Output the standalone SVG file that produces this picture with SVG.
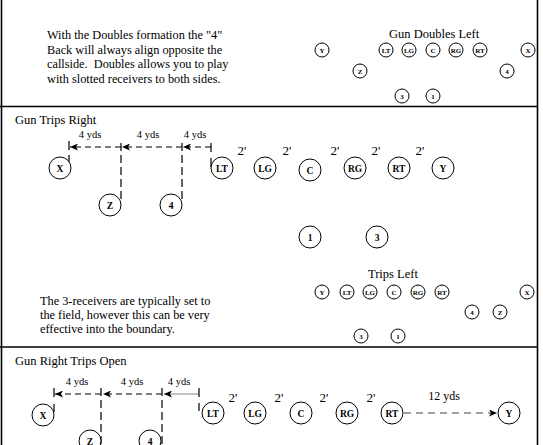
<svg xmlns="http://www.w3.org/2000/svg" width="543" height="445" viewBox="0 0 543 445">
<style>
.t{font-family:"Liberation Serif","Times New Roman",serif;fill:#000}
.body{font-size:12.3px;white-space:pre}
.title{font-size:12.5px}
.yd{font-size:10.5px;text-anchor:middle}
.ft{font-size:13px;text-anchor:middle}
.c{fill:#fff;stroke:#000;stroke-width:1}
.sl{font-size:7px;font-weight:bold;text-anchor:middle}
.ll{font-size:9.5px;font-weight:bold;text-anchor:middle}
.dash{stroke:#000;stroke-width:1.2;stroke-dasharray:6 4;fill:none}
.solid{stroke:#888;stroke-width:1.2;fill:none}
.frame{stroke:#000;stroke-width:1.6;fill:none}
</style>
<defs>
<marker id="ah" markerWidth="9" markerHeight="7" refX="8" refY="3.5" orient="auto" markerUnits="userSpaceOnUse">
<path d="M0,0 L8,3.5 L0,7 L2,3.5 z" fill="#000"/>
</marker>
</defs>
<rect width="543" height="445" fill="#fff"/>
<g id="frame">
<line class="frame" x1="1.5" y1="0" x2="1.5" y2="445"/>
<line class="frame" x1="537.5" y1="0" x2="537.5" y2="445"/>
<line class="frame" x1="0" y1="106.5" x2="538" y2="106.5"/>
<line class="frame" x1="0" y1="347" x2="538" y2="347"/>
</g>
<g id="texts" font-family="'Liberation Serif', 'Times New Roman', serif">
<text class="t body" x="47" y="39">With the Doubles formation the "4"</text>
<text class="t body" x="47" y="53.5">Back will always align opposite the</text>
<text class="t body" x="47" y="68">callside.  Doubles allows you to play</text>
<text class="t body" x="47" y="82.5">with slotted receivers to both sides.</text>
<text class="t title" x="389" y="37.5">Gun Doubles Left</text>
<text class="t title" x="15" y="123.5">Gun Trips Right</text>
<text class="t body" x="40" y="305">The 3-receivers are typically set to</text>
<text class="t body" x="40" y="319">the field, however this can be very</text>
<text class="t body" x="40" y="333">effective into the boundary.</text>
<text class="t title" x="368" y="278">Trips Left</text>
<text class="t title" x="15" y="365">Gun Right Trips Open</text>
</g>
<g id="labels">
<text class="t yd" x="90" y="138">4 yds</text>
<text class="t yd" x="148" y="138">4 yds</text>
<text class="t yd" x="195" y="138">4 yds</text>
<text class="t ft" x="242" y="155">2'</text>
<text class="t ft" x="287" y="155">2'</text>
<text class="t ft" x="335" y="155">2'</text>
<text class="t ft" x="376" y="155">2'</text>
<text class="t ft" x="420" y="155">2'</text>
<text class="t yd" x="77" y="385">4 yds</text>
<text class="t yd" x="132" y="385">4 yds</text>
<text class="t yd" x="179" y="385">4 yds</text>
<text class="t ft" x="233" y="402">2'</text>
<text class="t ft" x="279" y="402">2'</text>
<text class="t ft" x="324" y="402">2'</text>
<text class="t ft" x="371" y="402">2'</text>
<text class="t ft" x="444" y="400" style="font-size:12px">12 yds</text>
</g>
<g id="connectors">
<line class="dash" x1="211" y1="147" x2="183" y2="147" marker-end="url(#ah)"/>
<line class="dash" x1="182" y1="147" x2="122" y2="147" marker-end="url(#ah)"/>
<line class="dash" x1="121" y1="147" x2="70" y2="147" marker-end="url(#ah)"/>
<line class="dash" x1="69" y1="141" x2="69" y2="162" style="stroke-dasharray:9 5"/>
<line class="dash" x1="121" y1="143" x2="121" y2="202" style="stroke-dasharray:8 4"/>
<line class="dash" x1="182" y1="143" x2="182" y2="202" style="stroke-dasharray:8 4"/>
<line class="dash" x1="211" y1="143" x2="211" y2="167" style="stroke-dasharray:9 6"/>
<line class="solid" x1="199" y1="394" x2="164" y2="394" marker-end="url(#ah)"/>
<line class="dash" x1="162" y1="394" x2="103" y2="394" marker-end="url(#ah)"/>
<line class="dash" x1="101" y1="394" x2="55" y2="394" marker-end="url(#ah)"/>
<line class="dash" x1="54" y1="388" x2="54" y2="412" style="stroke-dasharray:9 7"/>
<line class="dash" x1="101" y1="388" x2="101" y2="445" style="stroke-dasharray:8 4"/>
<line class="dash" x1="162" y1="388" x2="162" y2="445" style="stroke-dasharray:8 4"/>
<line class="dash" x1="199" y1="388" x2="199" y2="411" style="stroke-dasharray:9 6"/>
<line class="dash" x1="404" y1="413" x2="497" y2="413" style="stroke:#444;stroke-dasharray:7 5" marker-end="url(#ah)"/>
</g>
<g id="s1-Y"><circle class="c" cx="322" cy="50" r="7"/><text class="t sl" x="322" y="52.5">Y</text></g>
<g id="s1-LT"><circle class="c" cx="386" cy="50" r="7"/><text class="t sl" x="386" y="52.5">LT</text></g>
<g id="s1-LG"><circle class="c" cx="409" cy="50" r="7"/><text class="t sl" x="409" y="52.5">LG</text></g>
<g id="s1-C"><circle class="c" cx="433" cy="50" r="7"/><text class="t sl" x="433" y="52.5">C</text></g>
<g id="s1-RG"><circle class="c" cx="456" cy="50" r="7"/><text class="t sl" x="456" y="52.5">RG</text></g>
<g id="s1-RT"><circle class="c" cx="480" cy="50" r="7"/><text class="t sl" x="480" y="52.5">RT</text></g>
<g id="s1-X"><circle class="c" cx="528" cy="50" r="7"/><text class="t sl" x="528" y="52.5">X</text></g>
<g id="s1-Z"><circle class="c" cx="360" cy="71" r="7"/><text class="t sl" x="360" y="73.5">Z</text></g>
<g id="s1-4"><circle class="c" cx="507" cy="71" r="7"/><text class="t sl" x="507" y="73.5">4</text></g>
<g id="s1-3"><circle class="c" cx="402" cy="96" r="7"/><text class="t sl" x="402" y="98.5">3</text></g>
<g id="s1-1"><circle class="c" cx="433" cy="96" r="7"/><text class="t sl" x="433" y="98.5">1</text></g>
<g id="s2-X"><circle class="c" cx="60" cy="168" r="11"/><text class="t ll" x="60" y="171.5">X</text></g>
<g id="s2-Z"><circle class="c" cx="110" cy="205" r="11"/><text class="t ll" x="110" y="208.5">Z</text></g>
<g id="s2-4"><circle class="c" cx="171" cy="205" r="11"/><text class="t ll" x="171" y="208.5">4</text></g>
<g id="s2-LT"><circle class="c" cx="222" cy="168" r="11"/><text class="t ll" x="222" y="171.5">LT</text></g>
<g id="s2-LG"><circle class="c" cx="265" cy="168" r="11"/><text class="t ll" x="265" y="171.5">LG</text></g>
<g id="s2-C"><circle class="c" cx="310" cy="170" r="11"/><text class="t ll" x="310" y="173.5">C</text></g>
<g id="s2-RG"><circle class="c" cx="355" cy="168" r="11"/><text class="t ll" x="355" y="171.5">RG</text></g>
<g id="s2-RT"><circle class="c" cx="399" cy="168" r="11"/><text class="t ll" x="399" y="171.5">RT</text></g>
<g id="s2-Y"><circle class="c" cx="443" cy="168" r="11"/><text class="t ll" x="443" y="171.5">Y</text></g>
<g id="s2-1"><circle class="c" cx="310" cy="237" r="11"/><text class="t ll" x="310" y="240.5">1</text></g>
<g id="s2-3"><circle class="c" cx="377" cy="237" r="11"/><text class="t ll" x="377" y="240.5">3</text></g>
<g id="s3-Y"><circle class="c" cx="322" cy="292" r="7"/><text class="t sl" x="322" y="294.5">Y</text></g>
<g id="s3-LT"><circle class="c" cx="347" cy="292" r="7"/><text class="t sl" x="347" y="294.5">LT</text></g>
<g id="s3-LG"><circle class="c" cx="370" cy="292" r="7"/><text class="t sl" x="370" y="294.5">LG</text></g>
<g id="s3-C"><circle class="c" cx="394" cy="292" r="7"/><text class="t sl" x="394" y="294.5">C</text></g>
<g id="s3-RG"><circle class="c" cx="418" cy="292" r="7"/><text class="t sl" x="418" y="294.5">RG</text></g>
<g id="s3-RT"><circle class="c" cx="442" cy="292" r="7"/><text class="t sl" x="442" y="294.5">RT</text></g>
<g id="s3-X"><circle class="c" cx="527" cy="292" r="7"/><text class="t sl" x="527" y="294.5">X</text></g>
<g id="s3-4"><circle class="c" cx="472" cy="312" r="7"/><text class="t sl" x="472" y="314.5">4</text></g>
<g id="s3-Z"><circle class="c" cx="500" cy="312" r="7"/><text class="t sl" x="500" y="314.5">Z</text></g>
<g id="s3-3"><circle class="c" cx="361" cy="336" r="7"/><text class="t sl" x="361" y="338.5">3</text></g>
<g id="s3-1"><circle class="c" cx="398" cy="336" r="7"/><text class="t sl" x="398" y="338.5">1</text></g>
<g id="s4-X"><circle class="c" cx="43" cy="415" r="11"/><text class="t ll" x="43" y="418.5">X</text></g>
<g id="s4-Z"><circle class="c" cx="90" cy="441" r="11"/><text class="t ll" x="90" y="444.5">Z</text></g>
<g id="s4-4"><circle class="c" cx="150" cy="441" r="11"/><text class="t ll" x="150" y="444.5">4</text></g>
<g id="s4-LT"><circle class="c" cx="213" cy="413" r="11"/><text class="t ll" x="213" y="416.5">LT</text></g>
<g id="s4-LG"><circle class="c" cx="255" cy="413" r="11"/><text class="t ll" x="255" y="416.5">LG</text></g>
<g id="s4-C"><circle class="c" cx="301" cy="413" r="11"/><text class="t ll" x="301" y="416.5">C</text></g>
<g id="s4-RG"><circle class="c" cx="347" cy="413" r="11"/><text class="t ll" x="347" y="416.5">RG</text></g>
<g id="s4-RT"><circle class="c" cx="392" cy="413" r="11"/><text class="t ll" x="392" y="416.5">RT</text></g>
<g id="s4-Y"><circle class="c" cx="509" cy="413" r="11"/><text class="t ll" x="509" y="416.5">Y</text></g>
</svg>
